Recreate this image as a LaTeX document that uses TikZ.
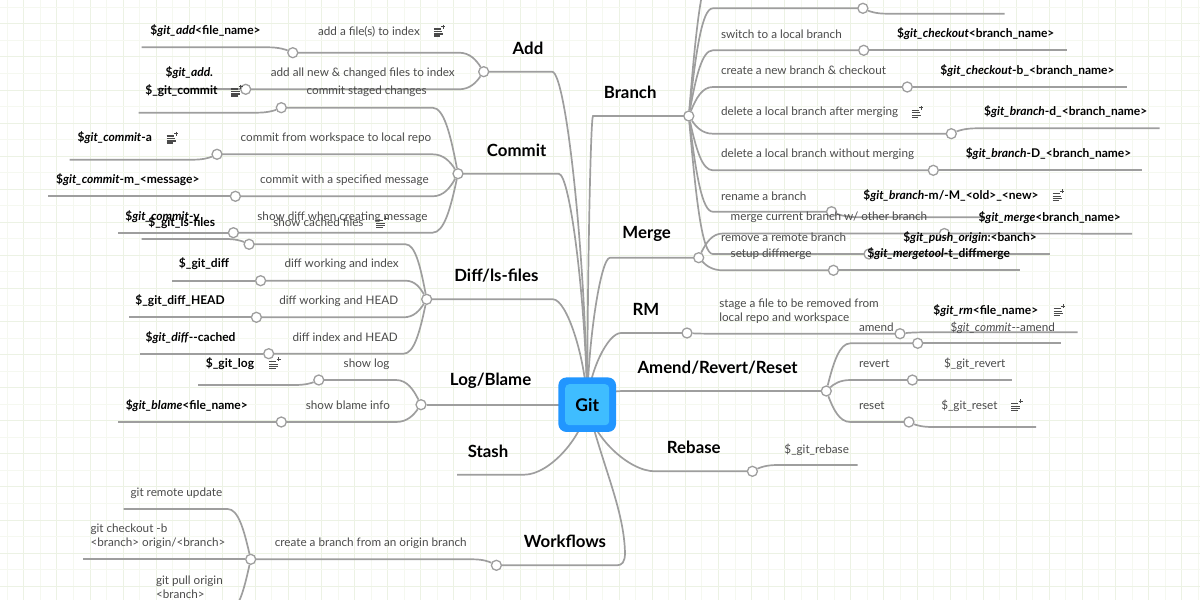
\documentclass[tikz,border=0pt]{standalone}
\usepackage{fontspec}
\setmainfont{Lato}
\usetikzlibrary{calc,backgrounds}
\definecolor{linegray}{HTML}{9E9E9E}
\definecolor{memogray}{HTML}{4A4A4A}
\definecolor{gridstrong}{HTML}{ECF2E4}
\definecolor{gridsoft}{HTML}{F5F8F0}
\definecolor{gitouter}{HTML}{2196FF}
\definecolor{gitinner}{HTML}{3FBDFF}
\tikzset{
  hub/.style={circle,draw=linegray,fill=white,line width=1.3pt,inner sep=0pt,minimum size=10pt},
  topic/.style={font=\fontsize{16.8}{19}\selectfont\bfseries,text=black,inner sep=0pt},
  memo/.style={font=\fontsize{11.7}{14}\selectfont,text=memogray,inner sep=0pt,align=left},
  code/.style={font=\fontsize{12}{14}\selectfont\bfseries,text=black,inner sep=0pt},
  limb/.style={draw=linegray,line width=1.7pt},
  twig/.style={to path={let \p1=(\tikztostart),\p2=(\tikztotarget) in
    .. controls ({\x1+0.3*(#1pt)},{\y1+0.6*(\y2-\y1)}) and ({\x1+0.55*(#1pt)},\y2) .. ({\x1+#1pt},\y2) -- (\x2,\y2)}},
  trunk/.style={to path={let \p1=(\tikztostart),\p2=(\tikztotarget) in
    .. controls ({\x1+0.05*(#1pt-\x1)},{\y1+0.45*(\y2-\y1)}) and ({#1pt+0.4*(\x1-#1pt)},\y2) .. (#1pt,\y2) -- (\x2,\y2)}},
  notes/.pic={
    \draw[memogray,line width=1.1pt]
      (-5.5,-2) -- (1.5,-2) (-5.5,0.5) -- (3,0.5) (-5.5,3) -- (3.5,3) (-5.5,5) -- (1,5);
    \draw[memogray,line width=0.9pt] (2,-4.5) -- (6,-4.5) (4,-6.5) -- (4,-2.5);
  }
}
\begin{document}
\begin{tikzpicture}[x=1pt,y=-1pt]
  \useasboundingbox (0,0) rectangle (1200,600);
  % centre
  \coordinate (core) at (587.2,404.7);
  \node[rounded corners=8pt,fill=gitouter,minimum width=57.7pt,minimum height=54.5pt,inner sep=0pt] (gitbox) at (587.2,404.7) {};
  \node[rounded corners=4pt,fill=gitinner,minimum width=44pt,minimum height=41pt,inner sep=0pt,font=\fontsize{17.5}{19}\selectfont\bfseries] (git) at (587.2,404.7) {Git};
  % left side, topics and hubs
  \draw
    (528,48) node[topic] (addT){Add}
    (483.7,71.7) node[hub] (add){}
    (292.8,52.7) node[hub] (addfile){}
    (245.7,89.3) node[hub] (addall){}
    (516.6,150) node[topic] (commitT){Commit}
    (458,173.7) node[hub] (commit){}
    (281.3,107.7) node[hub] (cstaged){}
    (217,154.3) node[hub] (cworkspace){}
    (235.4,196.3) node[hub] (cmessage){}
    (233.4,232.7) node[hub] (cdiff){}
    (496.4,276) node[topic] (diffT){Diff/ls-files}
    (426.7,299.3) node[hub] (diff){}
    (249.1,244.3) node[hub] (dcached){}
    (260.6,280.7) node[hub] (dindex){}
    (256.4,317.3) node[hub] (dhead){}
    (268.7,353.7) node[hub] (dindexhead){}
    (490.6,380.7) node[topic] (logT){Log/Blame}
    (421,404.7) node[hub] (log){}
    (318.8,380) node[hub] (lshow){}
    (281.3,422) node[hub] (lblame){}
    (488,451) node[topic] (stashT){Stash}
    (565,541) node[topic] (workflowsT){Workflows}
    (496.4,565.3) node[hub] (workflows){}
    (250.7,559.3) node[hub] (wcreate){};
  % right side, topics and hubs
  \draw
    (630.2,92.3) node[topic] (branchT){Branch}
    (688.8,116) node[hub] (branch){}
    (862.9,8.3) node[hub] (btop){}
    (863.7,50.3) node[hub] (bswitch){}
    (907.3,87) node[hub] (bcreate){}
    (951.3,133.7) node[hub] (bmerged){}
    (933.3,170.3) node[hub] (bunmerged){}
    (831.5,211.7) node[hub] (brename){}
    (869,254) node[hub] (bremote){}
    (646.7,234.3) node[topic] (mergeT){Merge}
    (698.7,257.7) node[hub] (merge){}
    (944.4,233.5) node[hub] (mcurrent){}
    (833.4,270.3) node[hub] (msetup){}
    (646,309) node[topic] (rmT){RM}
    (687,333) node[hub] (rm){}
    (900,333.7) node[hub] (rmstage){}
    (717.6,367.7) node[topic] (amendT){Amend/Revert/Reset}
    (826.3,391) node[hub] (amend){}
    (917.7,343.3) node[hub] (aamend){}
    (912.4,380) node[hub] (arevert){}
    (908.9,422) node[hub] (areset){}
    (693.8,447.7) node[topic] (rebaseT){Rebase}
    (752.4,471.3) node[hub] (rebase){};
  % free ends
  \coordinate (addfileE) at (141.6,47.3);
  \coordinate (addallE) at (157,89.3);
  \coordinate (cstagedE) at (138.5,112.7);
  \coordinate (cworkspaceE) at (69.7,159.7);
  \coordinate (cmessageE) at (47.8,196.3);
  \coordinate (cdiffE) at (117.9,232.7);
  \coordinate (dcachedE) at (141.6,239);
  \coordinate (dindexE) at (171.5,280.7);
  \coordinate (dheadE) at (129,317.3);
  \coordinate (dindexheadE) at (139.7,353.7);
  \coordinate (lshowE) at (198.2,385);
  \coordinate (lblameE) at (117.9,422);
  \coordinate (stashE) at (457,474.7);
  \coordinate (wupdateE) at (123.6,509);
  \coordinate (wcheckoutE) at (82.7,559.3);
  \coordinate (wpullE) at (140,612);
  \coordinate (bhiddenE) at (900,-30);
  \coordinate (btopE) at (1004.5,13.7);
  \coordinate (bswitchE) at (1066.5,50.3);
  \coordinate (bcreateE) at (1126.6,87);
  \coordinate (bmergedE) at (1159.5,128.3);
  \coordinate (bunmergedE) at (1141.9,170.3);
  \coordinate (brenameE) at (985,217.3);
  \coordinate (bremoteE) at (1049.7,254);
  \coordinate (mcurrentE) at (1132,233.7);
  \coordinate (msetupE) at (1019.8,270.3);
  \coordinate (rmstageE) at (1077.7,332.3);
  \coordinate (aamendE) at (1060.5,343.3);
  \coordinate (arevertE) at (1011.5,380);
  \coordinate (aresetE) at (1036,427);
  \coordinate (rebaseE) at (857.6,465);
  % texts, left side
  \draw
    (205.5,31) node[code] (addfileC){\$\textit{git\_add}<file\_name>}
    (369,31.7) node[memo] (addfileM){add a file(s) to index}
    (189.4,73) node[code] (addallC){\$\textit{git\_add.}}
    (362.8,73.3) node[memo] (addallM){add all new \& changed files to index}
    (181.4,91) node[code] (cstagedC){\$\_git\_commit}
    (366.6,91.7) node[memo] (cstagedM){commit staged changes}
    (114.8,138) node[code] (cworkspaceC){\$\textit{git\_commit}-a}
    (336,138.3) node[memo] (cworkspaceM){commit from workspace to local repo}
    (127.8,180) node[code] (cmessageC){\$\textit{git\_commit}-m\_<message>}
    (344.4,180.3) node[memo] (cmessageM){commit with a specified message}
    (162.6,216.7) node[code] (cdiffC){\$\textit{git\_commit}-v}
    (342.5,217) node[memo] (cdiffM){show diff when creating message}
    (181.8,222.7) node[code] (dcachedC){\$\_git\_ls-files}
    (318.4,222.7) node[memo] (dcachedM){show cached files}
    (204,264) node[code] (dindexC){\$\_git\_diff}
    (341.7,264.7) node[memo] (dindexM){diff working and index}
    (180,300.5) node[code] (dheadC){\$\_git\_diff\_HEAD}
    (338.7,301) node[memo] (dheadM){diff working and HEAD}
    (190.6,337.3) node[code] (dindexheadC){\$\textit{git\_diff}-{}-cached}
    (345.2,337.7) node[memo] (dindexheadM){diff index and HEAD}
    (230,363.7) node[code] (lshowC){\$\_git\_log}
    (366.6,364) node[memo] (lshowM){show log}
    (186.8,405.3) node[code] (lblameC){\$\textit{git\_blame}<file\_name>}
    (347.9,405.7) node[memo] (lblameM){show blame info}
    (370.8,543.3) node[memo] (wcreateM){create a branch from an origin branch}
    (176.4,493) node[memo] (wupdateM){git remote update}
    (90.3,536.3) node[memo,anchor=west] (wcheckoutM){git checkout -b\\<branch> origin/<branch>}
    (155.8,586.8) node[memo,anchor=west] (wpullM){git pull origin\\<branch>};
  % texts, right side
  \draw
    (720.9,34) node[memo,anchor=west] (bswitchM){switch to a local branch}
    (975.8,33.7) node[code] (bswitchC){\$\textit{git\_checkout}<branch\_name>}
    (720.9,70.7) node[memo,anchor=west] (bcreateM){create a new branch \& checkout}
    (1027.5,70.3) node[code] (bcreateC){\$\textit{git\_checkout}-b\_<branch\_name>}
    (720.9,112.3) node[memo,anchor=west] (bmergedM){delete a local branch after merging}
    (1065.7,112) node[code] (bmergedC){\$\textit{git\_branch}-d\_<branch\_name>}
    (720.9,154) node[memo,anchor=west] (bunmergedM){delete a local branch without merging}
    (1048.5,153.7) node[code] (bunmergedC){\$\textit{git\_branch}-D\_<branch\_name>}
    (720.9,196) node[memo,anchor=west] (brenameM){rename a branch}
    (951,195.7) node[code] (brenameC){\$\textit{git\_branch}-m/-M\_<old>\_<new>}
    (730.5,217.7) node[memo,anchor=west] (mcurrentM){merge current branch w/ other branch}
    (1049.7,217.3) node[code] (mcurrentC){\$\textit{git\_merge}<branch\_name>}
    (720.9,237.7) node[memo,anchor=west] (bremoteM){remove a remote branch}
    (970,237.3) node[code] (bremoteC){\$\textit{git\_push\_origin}:<banch>}
    (730.5,254.3) node[memo,anchor=west] (msetupM){setup diffmerge}
    (938.7,254) node[code] (msetupC){\$\textit{git\_mergetool}-t\_diffmerge}
    (719.1,310.8) node[memo,anchor=west] (rmstageM){stage a file to be removed from\\local repo and workspace}
    (985.8,310.7) node[code] (rmstageC){\$\textit{git\_rm}<file\_name>}
    (858.8,327.7) node[memo,anchor=west] (aamendM){amend}
    (1002.7,327.7) node[memo] (aamendC){\$\textit{git\_commit}-{}-amend}
    (858.8,364) node[memo,anchor=west] (arevertM){revert}
    (974.7,364) node[memo] (arevertC){\$\_git\_revert}
    (858.8,406) node[memo,anchor=west] (aresetM){reset}
    (969.4,405.7) node[memo] (aresetC){\$\_git\_reset}
    (816.7,449.3) node[memo] (rebaseC){\$\_git\_rebase};
  % note icons
  \pic at (439.3,31) {notes};
  \pic at (236.5,91) {notes};
  \pic at (172.2,138) {notes};
  \pic at (381.5,222.7) {notes};
  \pic at (274.8,363.7) {notes};
  \pic at (917.3,112.3) {notes};
  \pic at (1058,195.7) {notes};
  \pic at (1059,310.7) {notes};
  \pic at (1016.5,405.7) {notes};
  \begin{scope}[on background layer]
    \clip (0,0) rectangle (1200,600);
    % grid paper
    \foreach \k in {0,2,...,72} {
      \draw[gridsoft,line width=1pt] ({7.3+16.54*\k},0) -- ({7.3+16.54*\k},600);
    }
    \foreach \k in {1,3,...,71} {
      \draw[gridstrong,line width=1pt] ({7.3+16.54*\k},0) -- ({7.3+16.54*\k},600);
    }
    \foreach \k in {0,2,...,36} {
      \draw[gridsoft,line width=1pt] (0,{7.3+16.54*\k}) -- (1200,{7.3+16.54*\k});
    }
    \foreach \k in {1,3,...,35} {
      \draw[gridstrong,line width=1pt] (0,{7.3+16.54*\k}) -- (1200,{7.3+16.54*\k});
    }
    \begin{scope}[limb]
      % from the centre
      \draw (core) to[trunk=552] (add);
      \draw (core) to[trunk=558.7] (commit);
      \draw (core) to[trunk=553] (diff);
      \draw (core) -- (log);
      \draw (core) to[trunk=524.3] (stashE);
      \draw (core) .. controls (604,470) and (624,510) .. (625,553)
        .. controls (625,562) and (622,565.3) .. (617,565.3) -- (workflows);
      \draw (core) to[trunk=593] (branch);
      \draw (core) to[trunk=610] (merge);
      \draw (core) to[trunk=621] (rm);
      \draw (core) to[trunk=622] (amend);
      \draw (core) to[trunk=655] (rebase);
      % left side
      \draw (add) to[twig=-24.7] (addfile);
      \draw (add) to[twig=-24.7] (addall);
      \draw (addfile) to[twig=-25] (addfileE);
      \draw (addall) -- (addallE);
      \draw (commit) to[twig=-25.5] (cstaged);
      \draw (commit) to[twig=-25.5] (cworkspace);
      \draw (commit) to[twig=-25.5] (cmessage);
      \draw (commit) to[twig=-25.5] (cdiff);
      \draw (cstaged) to[twig=-25] (cstagedE);
      \draw (cworkspace) to[twig=-24] (cworkspaceE);
      \draw (cmessage) -- (cmessageE);
      \draw (cdiff) -- (cdiffE);
      \draw (diff) to[twig=-21] (dcached);
      \draw (diff) to[twig=-21] (dindex);
      \draw (diff) to[twig=-23] (dhead);
      \draw (diff) to[twig=-23] (dindexhead);
      \draw (dcached) to[twig=-23.3] (dcachedE);
      \draw (dindex) -- (dindexE);
      \draw (dhead) -- (dheadE);
      \draw (dindexhead) -- (dindexheadE);
      \draw (log) to[twig=-25] (lshow);
      \draw (log) to[twig=-25] (lblame);
      \draw (lshow) to[twig=-24] (lshowE);
      \draw (lblame) -- (lblameE);
      \draw (workflows) to[twig=-23.8] (wcreate);
      \draw (wcreate) to[twig=-23] (wupdateE);
      \draw (wcreate) -- (wcheckoutE);
      \draw (wcreate) to[twig=-23] (wpullE);
      % right side
      \draw (branch) to[twig=24] (bhiddenE);
      \draw (branch) to[twig=24] (btop);
      \draw (branch) to[twig=24] (bswitch);
      \draw (branch) to[twig=24] (bcreate);
      \draw (branch) to[twig=24] (bmerged);
      \draw (branch) to[twig=24] (bunmerged);
      \draw (branch) to[twig=24] (brename);
      \draw (branch) to[twig=24] (bremote);
      \draw (btop) to[twig=24] (btopE);
      \draw (bswitch) -- (bswitchE);
      \draw (bcreate) -- (bcreateE);
      \draw (bmerged) to[twig=25.7] (bmergedE);
      \draw (bunmerged) -- (bunmergedE);
      \draw (brename) to[twig=28.5] (brenameE);
      \draw (bremote) -- (bremoteE);
      \draw (merge) to[twig=24] (mcurrent);
      \draw (merge) to[twig=24] (msetup);
      \draw (mcurrent) -- (mcurrentE);
      \draw (msetup) -- (msetupE);
      \draw (rm) to[twig=25] (rmstage);
      \draw (rmstage) to[twig=24.6] (rmstageE);
      \draw (amend) to[twig=24] (aamend);
      \draw (amend) to[twig=24] (arevert);
      \draw (amend) to[twig=24] (areset);
      \draw (aamend) -- (aamendE);
      \draw (arevert) -- (arevertE);
      \draw (areset) to[twig=23.4] (aresetE);
      \draw (rebase) to[twig=25] (rebaseE);
    \end{scope}
  \end{scope}
\end{tikzpicture}
\end{document}
